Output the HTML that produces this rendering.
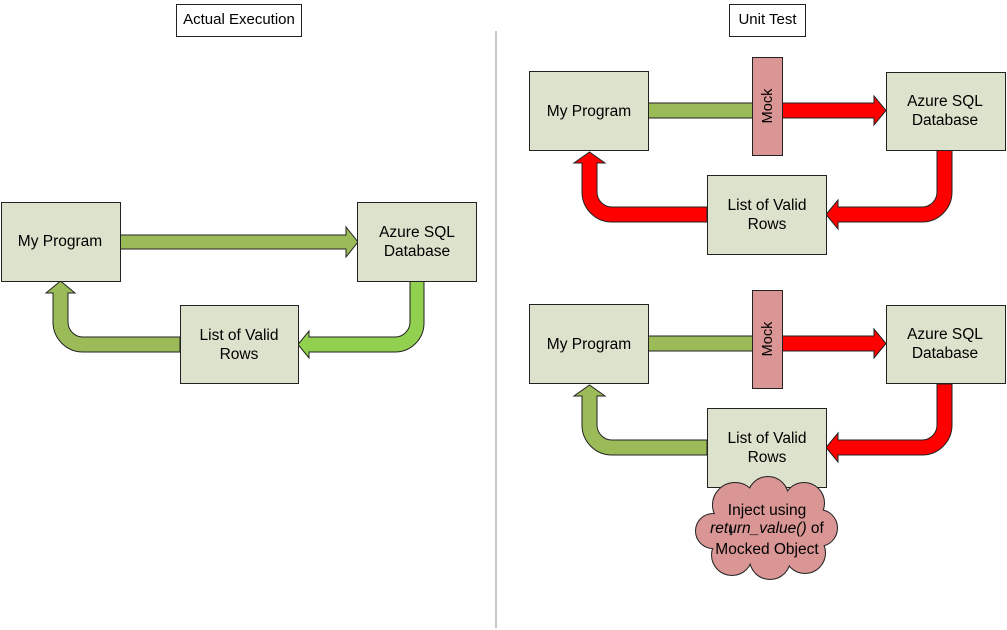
<!DOCTYPE html>
<html><head><meta charset="utf-8"><style>
html,body{margin:0;padding:0;background:#fff;}
svg{display:block;font-family:"Liberation Sans",Arial,sans-serif;}
.it{position:absolute;left:690px;top:520px;width:154px;text-align:center;font-family:"Liberation Sans",Arial,sans-serif;font-size:15.5px;line-height:18px;color:#000;white-space:nowrap;font-kerning:none;font-variant-ligatures:none;}
</style></head><body>
<div style="position:relative;width:1007px;height:630px;">
<svg width="1007" height="630" viewBox="0 0 1007 630" xmlns="http://www.w3.org/2000/svg">
<rect width="1007" height="630" fill="#fff"/>
<rect x="176.5" y="4.5" width="125" height="32" fill="#fff" stroke="#222" stroke-width="1"/>
<text x="239" y="24" font-size="15" text-anchor="middle" fill="#000">Actual Execution</text>
<rect x="729.5" y="4.5" width="76" height="32" fill="#fff" stroke="#222" stroke-width="1"/>
<text x="767.5" y="24" font-size="15" text-anchor="middle" fill="#000">Unit Test</text>
<line x1="496" y1="31" x2="496" y2="628" stroke="#c8c8c8" stroke-width="2"/>

<g stroke="#222" stroke-width="1">
<path d="M120,235 L346,235 L346,227 L358,242 L346,257 L346,249 L120,249 Z" fill="#9bbb59"/>
<path d="M410,281 L410,322 A15,15 0 0 1 395,337 L309,337 L309,331 L298,344.5 L309,358 L309,352 L395,352 A29,29 0 0 0 424,323 L424,281 Z" fill="#92d050"/>
<path d="M180,337 L83,337 A15,15 0 0 1 68,322 L68,293 L75,293 L60.5,281 L46,293 L53,293 L53,322 A30,30 0 0 0 83,352 L180,352 Z" fill="#9bbb59"/>
<rect x="1.5" y="202.5" width="119" height="79" fill="#dde2cc"/>
<rect x="357.5" y="202.5" width="119" height="79" fill="#dde2cc"/>
<rect x="180.5" y="305.5" width="118" height="78" fill="#dde2cc"/>

<rect x="648" y="103" width="105" height="15" fill="#9bbb59"/>
<path d="M782,103 L874,103 L874,96 L886,110.5 L874,125 L874,118 L782,118 Z" fill="#ff0000"/>
<path d="M937,150 L937,192 A15,15 0 0 1 922,207 L838,207 L838,200 L826,214.5 L838,229 L838,222 L922,222 A30,30 0 0 0 952,192 L952,150 Z" fill="#ff0000"/>
<path d="M707,207 L612,207 A15,15 0 0 1 597,192 L597,163 L605,163 L589.5,152 L574,163 L582,163 L582,192 A30,30 0 0 0 612,222 L707,222 Z" fill="#ff0000"/>
<rect x="529.5" y="71.5" width="119" height="79" fill="#dde2cc"/>
<rect x="752.5" y="57.5" width="30" height="98" fill="#d99694"/>
<rect x="886.5" y="72.5" width="119" height="78" fill="#dde2cc"/>
<rect x="707.5" y="175.5" width="119" height="79" fill="#dde2cc"/>

<g transform="translate(0,233)">
<rect x="648" y="103" width="105" height="15" fill="#9bbb59"/>
<path d="M782,103 L874,103 L874,96 L886,110.5 L874,125 L874,118 L782,118 Z" fill="#ff0000"/>
<path d="M937,151 L937,192 A15,15 0 0 1 922,207 L838,207 L838,200 L826,214.5 L838,229 L838,222 L922,222 A30,30 0 0 0 952,192 L952,151 Z" fill="#ff0000"/>
<path d="M707,207 L612,207 A15,15 0 0 1 597,192 L597,163 L605,163 L589.5,152 L574,163 L582,163 L582,192 A30,30 0 0 0 612,222 L707,222 Z" fill="#9bbb59"/>
<rect x="529.5" y="71.5" width="119" height="79" fill="#dde2cc"/>
<rect x="752.5" y="57.5" width="30" height="98" fill="#d99694"/>
<rect x="886.5" y="72.5" width="119" height="78" fill="#dde2cc"/>
<rect x="707.5" y="175.5" width="119" height="79" fill="#dde2cc"/>
</g>
</g>

<g>
<g fill="#d99694" stroke="#222" stroke-width="4">
<circle cx="735" cy="505" r="21"/><circle cx="768" cy="497" r="19"/><circle cx="804" cy="503" r="19"/>
<circle cx="819" cy="528" r="17"/><circle cx="805" cy="553" r="19"/><circle cx="770" cy="559" r="19"/>
<circle cx="732" cy="555" r="19"/><circle cx="713" cy="531" r="16"/><circle cx="767" cy="530" r="34"/>
</g>
<g fill="#d99694">
<circle cx="735" cy="505" r="22"/><circle cx="768" cy="497" r="20"/><circle cx="804" cy="503" r="20"/>
<circle cx="819" cy="528" r="18"/><circle cx="805" cy="553" r="20"/><circle cx="770" cy="559" r="20"/>
<circle cx="732" cy="555" r="20"/><circle cx="713" cy="531" r="17"/><circle cx="767" cy="530" r="35"/>
</g>
</g>

<g font-size="15.5" fill="#000" text-anchor="middle">
<text x="60" y="246">My Program</text>
<text x="417" y="237">Azure SQL</text>
<text x="417" y="256">Database</text>
<text x="239" y="340">List of Valid</text>
<text x="239" y="359">Rows</text>

<text x="589" y="116">My Program</text>
<text x="945" y="106">Azure SQL</text>
<text x="945" y="125">Database</text>
<text x="767" y="210">List of Valid</text>
<text x="767" y="229">Rows</text>
<text transform="translate(772,106) rotate(-90)" font-size="14.5">Mock</text>

<text x="589" y="349">My Program</text>
<text x="945" y="339">Azure SQL</text>
<text x="945" y="358">Database</text>
<text x="767" y="443">List of Valid</text>
<text x="767" y="462">Rows</text>
<text transform="translate(772,339) rotate(-90)" font-size="14.5">Mock</text>

<text x="767" y="515">Inject using</text>
<text x="767" y="554">Mocked Object</text>
</g>
</svg>
<div class="it"><i>return_value()</i> of</div>
</div>
</body></html>
